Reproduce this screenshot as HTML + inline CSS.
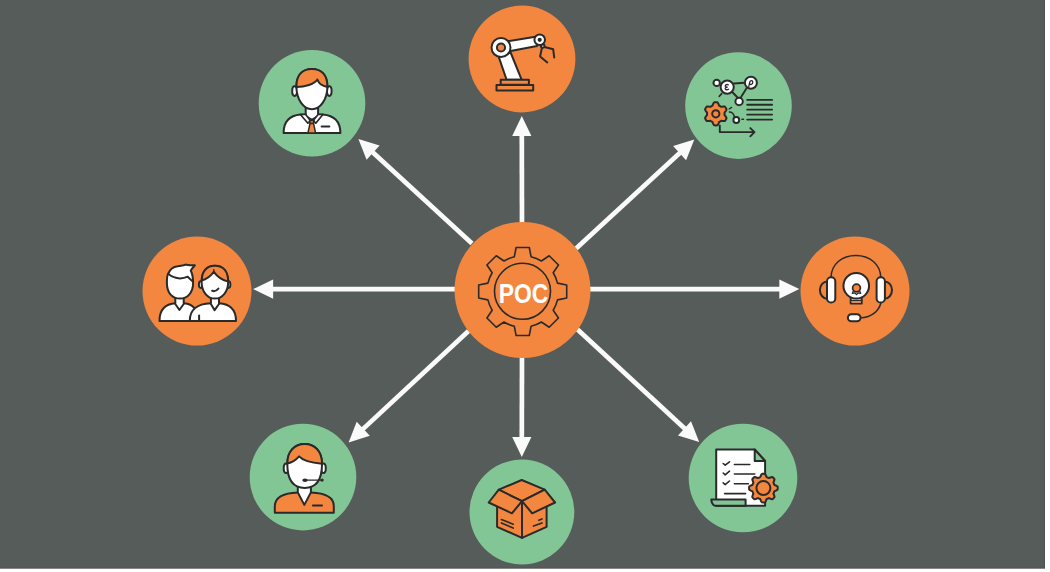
<!DOCTYPE html>
<html><head><meta charset="utf-8">
<style>
html,body{margin:0;padding:0;width:1050px;height:572px;overflow:hidden;background:#fff;}
svg{display:block;}
</style></head>
<body>
<svg width="1050" height="572" viewBox="0 0 1050 572">
<rect width="1050" height="572" fill="#ffffff"/>
<rect x="0" y="0" width="1045" height="568.7" fill="#4e5452"/>
<rect x="0" y="0" width="1043.8" height="567.5" fill="#565c5a"/>
<!-- arrows -->
<g stroke="#fafafa" stroke-width="4.7" fill="none">
  <line x1="522.0" y1="224.0" x2="521.8" y2="134.0"/>
  <line x1="522.0" y1="356.0" x2="521.8" y2="439.0"/>
  <line x1="456.0" y1="289.2" x2="271.1" y2="289.1"/>
  <line x1="589.0" y1="289.2" x2="781.3" y2="289.1"/>
  <line x1="472.0" y1="243.6" x2="371.6" y2="151.3"/>
  <line x1="576.1" y1="248.5" x2="681.1" y2="151.8"/>
  <line x1="468.5" y1="331.0" x2="361.8" y2="430.1"/>
  <line x1="577.3" y1="329.3" x2="686.0" y2="429.7"/>
</g>
<g fill="#fafafa">
  <polygon points="521.8,116.0 531.4,136.0 512.2,136.0"/>
  <polygon points="521.8,457.0 512.2,437.0 531.4,437.0"/>
  <polygon points="253.1,289.1 273.1,279.5 273.1,298.7"/>
  <polygon points="799.3,289.1 779.3,298.7 779.3,279.5"/>
  <polygon points="358.4,139.1 379.6,145.6 366.6,159.7"/>
  <polygon points="694.3,139.6 686.1,160.2 673.1,146.1"/>
  <polygon points="348.6,442.4 356.7,421.8 369.8,435.8"/>
  <polygon points="699.2,441.9 678.0,435.4 691.0,421.3"/>
</g>
<!-- circles -->
<g>
  <circle cx="522.5" cy="290" r="68" fill="#f3873f"/>
  <circle cx="522" cy="59" r="53.4" fill="#f3873f"/>
  <circle cx="312" cy="103.2" r="53.3" fill="#83c696"/>
  <circle cx="738.5" cy="105.6" r="53.3" fill="#83c696"/>
  <circle cx="197" cy="291.05" r="54.5" fill="#f3873f"/>
  <circle cx="855" cy="291.05" r="54.5" fill="#f3873f"/>
  <circle cx="303" cy="477.1" r="53.3" fill="#83c696"/>
  <circle cx="521.9" cy="512" r="52.4" fill="#83c696"/>
  <circle cx="743" cy="478" r="54.3" fill="#83c696"/>
</g>
<!-- POC gear -->
<g fill="none" stroke="#2a2a2a" stroke-width="1.6" stroke-linejoin="round">
  <path d="M514.34,256.69L516.12,247.49L529.28,247.49L531.06,256.69A35.8,35.8 0 0 1 541.41,260.98L549.17,255.73L558.47,265.03L553.22,272.79A35.8,35.8 0 0 1 557.51,283.14L566.71,284.92L566.71,298.08L557.51,299.86A35.8,35.8 0 0 1 553.22,310.21L558.47,317.97L549.17,327.27L541.41,322.02A35.8,35.8 0 0 1 531.06,326.31L529.28,335.51L516.12,335.51L514.34,326.31A35.8,35.8 0 0 1 503.99,322.02L496.23,327.27L486.93,317.97L492.18,310.21A35.8,35.8 0 0 1 487.89,299.86L478.69,298.08L478.69,284.92L487.89,283.14A35.8,35.8 0 0 1 492.18,272.79L486.93,265.03L496.23,255.73L503.99,260.98A35.8,35.8 0 0 1 514.34,256.69Z"/>
  <circle cx="522.5" cy="291.3" r="28"/>
</g>
<text x="523.5" y="302.9" text-anchor="middle" font-family="Liberation Sans" font-weight="bold" font-size="27.8" fill="#fff" textLength="49.5" lengthAdjust="spacingAndGlyphs">POC</text>

<!-- robot -->
<g stroke="#2a2a2a" stroke-width="2" stroke-linejoin="round" stroke-linecap="round">
  <polygon points="498.8,57.1 510.6,52.5 521.7,79.8 506.6,79.8" fill="#fff"/>
  <polygon points="505.6,41.6 537,36.4 537,46 510.6,51" fill="#fff"/>
  <rect x="500.7" y="79.8" width="28.2" height="5" fill="#f3873f"/>
  <rect x="496.5" y="85" width="36.7" height="5.6" fill="#f3873f"/>
  <circle cx="501" cy="47.5" r="9.5" fill="#fff"/>
  <circle cx="501" cy="47.5" r="4.1" fill="#f3873f"/>
  <polyline points="542,47.5 540.1,56.5 547.3,62.4" fill="none"/>
  <polyline points="544.5,47 553.2,49.3 554.2,57.5" fill="none"/>
  <circle cx="542.7" cy="46" r="1.8" fill="#fff"/>
  <circle cx="539.7" cy="39.8" r="5.3" fill="#fff"/>
  <circle cx="539.7" cy="39.8" r="2.1" fill="#2a2a2a" stroke="none"/>
</g>

<!-- person top-left -->
<g stroke="#2a2a2a" stroke-width="2" stroke-linejoin="round" stroke-linecap="round">
  <path d="M283.6,133 C283.6,121 290,115.5 300.4,114.5 L322.7,114.5 C334,115.5 340.4,121 340.4,133 Z" fill="#fff"/>
  <path d="M305.7,107 L305.7,116 L311.8,119.8 L318.1,116 L318.1,107 Z" fill="#fff"/>
  <path d="M300.4,114.5 L305.7,114.5 L310.3,120.5 L307.9,123.2 Z" fill="#fff" stroke-width="1.7"/>
  <path d="M322.9,114.5 L318.1,114.5 L313.3,120.5 L315.8,123.2 Z" fill="#fff" stroke-width="1.7"/>
  <path d="M309.6,120.4 L314,120.4 L313.5,123.4 L310.1,123.4 Z" fill="#f3873f" stroke-width="1.5"/>
  <path d="M310.1,123.4 L313.5,123.4 L315.6,132.9 L307.9,132.9 Z" fill="#f3873f" stroke-width="1.5"/>
  <path d="M321.6,126.6 L329.4,126.6" fill="none"/>
  <ellipse cx="294.6" cy="91.1" rx="2.4" ry="4.8" fill="#fff"/>
  <ellipse cx="329.3" cy="91.1" rx="2.3" ry="4.8" fill="#fff"/>
  <path d="M296.4,86 C296.4,74.5 303,68.9 311.9,68.9 C320.8,68.9 327.4,74.5 327.4,86 C327.4,100 320,109.2 311.9,109.2 C303.8,109.2 296.4,100 296.4,86 Z" fill="#fff"/>
  <path d="M296.4,87 C296.4,74.5 303,68.9 311.9,68.9 C320.8,68.9 327.4,74.5 327.4,87 C322,86 318.5,83 317.4,79.5 C314.5,84 305,87 296.4,87 Z" fill="#f3873f"/>
</g>

<!-- network top-right -->
<g stroke="#2a2a2a" stroke-width="2" stroke-linejoin="round" stroke-linecap="round">
  <path d="M734,83.5 L744.4,82.7 M732.7,92.5 L738,98 M740.8,97.5 L746.4,88.5" fill="none" stroke-width="1.9"/>
  <path d="M719.2,96.4 L721.7,93.6" fill="none" stroke-width="1.6"/>
  <circle cx="716.7" cy="82.9" r="3.2" fill="#fff"/>
  <circle cx="727.2" cy="87.1" r="6.6" fill="#fff"/>
  <circle cx="750.9" cy="82.8" r="6.0" fill="#fff"/>
  <circle cx="739.1" cy="101.5" r="3.7" fill="#fff"/>
  <path d="M728.3,84.8 C726.5,84 724.9,85 725.3,86.3 C725.6,87 726.5,87.1 727.3,87.1 C726,87.1 725,87.8 725.3,88.9 C725.7,90 727.5,90 728.5,89.2" fill="none" stroke-width="1.4"/>
  <path d="M748.7,86.8 L749.8,82 C750.3,80.2 752.8,80.2 752.8,82.3 C752.8,84.5 750.3,85.2 749.5,83.5" fill="none" stroke-width="1.3"/>
  <path d="M724.60,113.80 L724.60,114.03 L724.59,114.26 L724.57,114.49 L724.55,114.72 L724.52,114.95 L724.66,115.20 L724.89,115.49 L725.14,115.79 L725.40,116.10 L725.65,116.44 L725.89,116.79 L726.12,117.15 L726.31,117.52 L726.47,117.90 L726.52,118.24 L726.40,118.52 L726.27,118.79 L726.14,119.07 L725.99,119.34 L725.85,119.60 L725.69,119.86 L725.53,120.12 L725.36,120.37 L725.18,120.62 L725.00,120.86 L724.69,121.00 L724.28,121.04 L723.86,121.06 L723.44,121.05 L723.01,121.01 L722.60,120.96 L722.19,120.90 L721.81,120.83 L721.44,120.77 L721.16,120.78 L720.97,120.92 L720.78,121.05 L720.59,121.18 L720.40,121.30 L720.20,121.42 L720.00,121.53 L719.80,121.64 L719.59,121.74 L719.38,121.84 L719.17,121.93 L719.01,122.17 L718.89,122.52 L718.75,122.88 L718.60,123.26 L718.44,123.65 L718.26,124.04 L718.06,124.41 L717.83,124.77 L717.59,125.09 L717.31,125.30 L717.01,125.34 L716.71,125.36 L716.41,125.38 L716.10,125.40 L715.80,125.40 L715.50,125.40 L715.19,125.38 L714.89,125.36 L714.59,125.34 L714.29,125.30 L714.01,125.09 L713.77,124.77 L713.54,124.41 L713.34,124.04 L713.16,123.65 L713.00,123.26 L712.85,122.88 L712.71,122.52 L712.59,122.17 L712.43,121.93 L712.22,121.84 L712.01,121.74 L711.80,121.64 L711.60,121.53 L711.40,121.42 L711.20,121.30 L711.01,121.18 L710.82,121.05 L710.63,120.92 L710.44,120.78 L710.16,120.77 L709.79,120.83 L709.41,120.90 L709.00,120.96 L708.59,121.01 L708.16,121.05 L707.74,121.06 L707.32,121.04 L706.91,121.00 L706.60,120.86 L706.42,120.62 L706.24,120.37 L706.07,120.12 L705.91,119.86 L705.75,119.60 L705.61,119.34 L705.46,119.07 L705.33,118.79 L705.20,118.52 L705.08,118.24 L705.13,117.90 L705.29,117.52 L705.48,117.15 L705.71,116.79 L705.95,116.44 L706.20,116.10 L706.46,115.79 L706.71,115.49 L706.94,115.20 L707.08,114.95 L707.05,114.72 L707.03,114.49 L707.01,114.26 L707.00,114.03 L707.00,113.80 L707.00,113.57 L707.01,113.34 L707.03,113.11 L707.05,112.88 L707.08,112.65 L706.94,112.40 L706.71,112.11 L706.46,111.81 L706.20,111.50 L705.95,111.16 L705.71,110.81 L705.48,110.45 L705.29,110.08 L705.13,109.70 L705.08,109.36 L705.20,109.08 L705.33,108.81 L705.46,108.53 L705.61,108.26 L705.75,108.00 L705.91,107.74 L706.07,107.48 L706.24,107.23 L706.42,106.98 L706.60,106.74 L706.91,106.60 L707.32,106.56 L707.74,106.54 L708.16,106.55 L708.59,106.59 L709.00,106.64 L709.41,106.70 L709.79,106.77 L710.16,106.83 L710.44,106.82 L710.63,106.68 L710.82,106.55 L711.01,106.42 L711.20,106.30 L711.40,106.18 L711.60,106.07 L711.80,105.96 L712.01,105.86 L712.22,105.76 L712.43,105.67 L712.59,105.43 L712.71,105.08 L712.85,104.72 L713.00,104.34 L713.16,103.95 L713.34,103.56 L713.54,103.19 L713.77,102.83 L714.01,102.51 L714.29,102.30 L714.59,102.26 L714.89,102.24 L715.19,102.22 L715.50,102.20 L715.80,102.20 L716.10,102.20 L716.41,102.22 L716.71,102.24 L717.01,102.26 L717.31,102.30 L717.59,102.51 L717.83,102.83 L718.06,103.19 L718.26,103.56 L718.44,103.95 L718.60,104.34 L718.75,104.72 L718.89,105.08 L719.01,105.43 L719.17,105.67 L719.38,105.76 L719.59,105.86 L719.80,105.96 L720.00,106.07 L720.20,106.18 L720.40,106.30 L720.59,106.42 L720.78,106.55 L720.97,106.68 L721.16,106.82 L721.44,106.83 L721.81,106.77 L722.19,106.70 L722.60,106.64 L723.01,106.59 L723.44,106.55 L723.86,106.54 L724.28,106.56 L724.69,106.60 L725.00,106.74 L725.18,106.98 L725.36,107.23 L725.53,107.48 L725.69,107.74 L725.85,108.00 L725.99,108.26 L726.14,108.53 L726.27,108.81 L726.40,109.08 L726.52,109.36 L726.47,109.70 L726.31,110.08 L726.12,110.45 L725.89,110.81 L725.65,111.16 L725.40,111.50 L725.14,111.81 L724.89,112.11 L724.66,112.40 L724.52,112.65 L724.55,112.88 L724.57,113.11 L724.59,113.34 L724.60,113.57Z" fill="#f3873f"/>
  <circle cx="715.8" cy="113.8" r="3.6" fill="#f3873f"/>
  <path d="M729.2,109 L731.6,107.4" fill="none" stroke-width="1.4"/>
  <path d="M729.4,112 C731.5,112 733.8,114 734.5,117.1" fill="none" stroke-width="1.6"/>
  <circle cx="736.3" cy="120" r="2.9" fill="#fff"/>
  <path d="M742,119.3 L743.5,119.3" fill="none" stroke-width="1.6"/>
  <path d="M747.2,99.9 L772.1,99.9 M747.2,104.7 L772.1,104.7 M747.2,109.6 L772.1,109.6 M747.2,114.6 L772.1,114.6 M747.2,119.6 L772.1,119.6" fill="none" stroke-width="1.9"/>
  <path d="M719.8,125.5 L719.8,132.1 L754.5,132.1 M750.3,128.1 L754.5,132.1 L750.3,136.3" fill="none" stroke-width="1.9"/>
</g>

<!-- two people left -->
<g stroke="#2a2a2a" stroke-width="2" stroke-linejoin="round" stroke-linecap="round">
  <path d="M159.5,320.9 C159.5,309 165,304 175.5,303.3 L184,303.3 C193,304 198,309 198,320.9 Z" fill="#fff"/>
  <path d="M175.3,298 L175.3,304 L179.4,310 L183.7,304 L183.7,298" fill="#fff"/>
  <path d="M166.9,283 C166.9,278 167,275.5 168.1,273.8 C170,269 173.5,266.6 177.7,266.2 C180,265.9 182,265.6 183.6,265.3 L185.5,264.6 C188,265 191,265.6 194.8,265.3 C193,267.5 191.5,269 190.7,270.6 C192,273 193.1,277 193.1,283 C193.1,293 187,298.6 180,298.6 C172.4,298.6 166.9,293 166.9,283 Z" fill="#fff"/>
  <path d="M168.1,273.8 C172,277 176,278.4 180.1,278.4 C183,278.4 186,277.5 187.7,276.7 L192.8,281.6" fill="none"/>
  <path d="M189.8,320.9 C189.8,309 197,304 210.9,303.3 L219,303.3 C230,304 236,309 236,320.9 Z" fill="#fff"/>
  <path d="M199.1,315.6 L199.1,320.9" fill="none"/>
  <path d="M210.9,298 L210.9,304 L214.6,310.2 L219,304 L219,298" fill="#fff"/>
  <ellipse cx="200.8" cy="284.6" rx="1.9" ry="3.3" fill="#fff"/>
  <ellipse cx="228.5" cy="284.6" rx="1.9" ry="3.3" fill="#fff"/>
  <path d="M201.6,282 C201.6,271 207,265.8 214.9,265.8 C222.8,265.8 228.2,271 228.2,282 C228.2,292 222,298.6 214.9,298.6 C207.8,298.6 201.6,292 201.6,282 Z" fill="#fff"/>
  <path d="M201.8,280.5 C201.8,271 207,265.8 214.9,265.8 C222.8,265.8 228.1,271 228.1,281.6 C222,280 216.5,275.5 213.8,271.8 C211,276 207,279 201.8,280.5 Z" fill="#f3873f"/><path d="M213.8,271.8 L213.8,269.7" fill="none" stroke-width="1.4"/>
  <path d="M212.1,290.7 Q215,292.4 218.4,288.6" fill="none"/>
</g>

<!-- headset right -->
<g stroke="#2a2a2a" stroke-width="2" stroke-linejoin="round" stroke-linecap="round">
  <path d="M831.1,277.5 C831.1,264 842,255.6 855.9,255.6 C869.5,255.6 880.7,264 880.7,277.5" fill="none" stroke-width="1.5"/>
  <path d="M881,302.4 C879,312 870,317.8 860.5,317.8" fill="none" stroke-width="1.6"/>
  <path d="M827.5,281.4 A7.6,8.7 0 0 0 827.5,298.8 Z" fill="#f3873f"/>
  <path d="M884.4,281.4 A7.6,8.7 0 0 1 884.4,298.8 Z" fill="#f3873f"/>
  <rect x="827" y="277.2" width="8.3" height="25.4" rx="4.1" fill="#fff"/>
  <rect x="876.6" y="277.2" width="8.3" height="25.4" rx="4.1" fill="#fff"/>
  <rect x="850.7" y="297" width="11" height="6.6" fill="#fff"/>
  <rect x="851.6" y="300.8" width="9.2" height="1.9" fill="#f3873f" stroke="none"/><path d="M850.7,300.4 L861.7,300.4" fill="none" stroke-width="1.2"/>
  <circle cx="856.25" cy="285.8" r="12.8" fill="#fff"/>
  <circle cx="856.5" cy="288" r="3.9" fill="#f3873f" stroke-width="1.7"/>
  <path d="M853.2,291.2 L852.3,293.4 L854.8,292.8 L856.5,294.6 L858.2,292.8 L860.7,293.4 L859.8,291.2" fill="none" stroke-width="1.3"/>
  <rect x="847.9" y="314.3" width="12.6" height="7" rx="3.5" fill="#fff"/>
</g>

<!-- support agent bottom-left -->
<g stroke="#2a2a2a" stroke-width="2" stroke-linejoin="round" stroke-linecap="round">
  <path d="M274.8,512.8 L274.8,506 C275,498 283,493 297.8,492.4 L310.9,492.4 C326,493 333.8,498 333.8,506 L333.8,512.8 Z" fill="#f3873f"/>
  <path d="M297.8,486 L297.8,492.4 L304.3,504.9 L310.9,492.4 L310.9,486 Z" fill="#fff"/>
  <path d="M312.9,505.6 L322,505.6" fill="none"/>
  <ellipse cx="286.2" cy="468.2" rx="2.5" ry="4.8" fill="#fff"/>
  <ellipse cx="323.4" cy="468.2" rx="2.4" ry="4.8" fill="#fff"/>
  <path d="M287.3,464 C287.3,451 295,443.9 304.7,443.9 C314.4,443.9 322,451 322,464 C322,479 317,487.9 304.7,487.9 C292.4,487.9 287.3,479 287.3,464 Z" fill="#fff"/>
  <path d="M287.3,463.5 C287.3,451 295,443.9 304.7,443.9 C314.4,443.9 322,451 322,463.8 C314,463 303,461 299.1,456.4 C296,460 292,462.5 287.3,463.5 Z" fill="#f3873f"/>
  <path d="M305.6,480.2 L322,480.1" fill="none" stroke-width="1.2"/>
  <ellipse cx="305.0" cy="480.2" rx="2.7" ry="1.7" fill="#2a2a2a" stroke="none"/>
  <circle cx="322.1" cy="480.1" r="1.6" fill="#2a2a2a" stroke="none"/>
</g>

<!-- box bottom -->
<g stroke="#2a2a2a" stroke-width="2" stroke-linejoin="round" stroke-linecap="round">
  <path d="M497.1,507 L497.1,526.8 L522,537.9 L546.6,526.8 L546.6,507 L522,501.2 Z" fill="#f3873f"/>
  <path d="M498.8,489.7 L521.7,480 L544.7,489.7 L522,501.2 Z" fill="#f3873f"/>
  <path d="M498.8,489.7 L488.7,502.5 L511.9,513.3 L522,501.2 Z" fill="#f3873f"/>
  <path d="M544.7,489.7 L555.1,502.5 L532.2,513.3 L522,501.2 Z" fill="#f3873f"/>
  <path d="M522,501.2 L522,537.9" fill="none"/>
  <path d="M501.4,519.6 L513.2,524.2 M501.4,522.9 L513.2,528.1 M533.5,526.1 L542,522.9 M538.8,520.2 L542,518.9" fill="none" stroke-width="1.6"/>
</g>

<!-- document bottom-right -->
<g stroke="#2a2a2a" stroke-width="2" stroke-linejoin="round" stroke-linecap="round">
  <path d="M716.2,449.5 L754.7,449.5 L765.1,461 L765.1,505.7 L716.2,505.7 Z" fill="#fff"/>
  <path d="M754.7,449.5 L754.7,461 L765.1,461 Z" fill="#83c696"/>
  <path d="M711.3,499.4 L745.6,499.4 L745.6,505.7 L715,505.7 C713,505.7 711.3,502 711.3,499.4 Z" fill="#83c696"/>
  <path d="M723.2,463.5 L725.2,465.2 L729.5,461.8 M723.2,473 L725.2,474.8 L729.5,471.2 M723.2,482.8 L725.2,484.6 L729.5,481" fill="none" stroke-width="1.6"/>
  <path d="M734.4,464.5 L749.8,464.5 M734.4,474 L754.7,474 M734.4,483.8 L748.4,483.8 M724.6,493.6 L745.6,493.6" fill="none" stroke-width="1.6"/>
  <path d="M777.70,488.10 L777.70,488.47 L777.68,488.85 L777.66,489.22 L777.62,489.59 L777.22,489.92 L776.76,490.22 L776.26,490.48 L775.75,490.72 L775.24,490.94 L774.76,491.14 L774.33,491.34 L774.24,491.62 L774.15,491.91 L774.04,492.19 L773.93,492.46 L773.81,492.74 L773.69,493.01 L773.56,493.28 L773.42,493.54 L773.59,493.98 L773.78,494.46 L773.99,494.97 L774.18,495.51 L774.34,496.05 L774.46,496.58 L774.51,497.10 L774.27,497.39 L774.03,497.67 L773.77,497.94 L773.51,498.21 L773.24,498.47 L772.97,498.73 L772.69,498.97 L772.40,499.21 L771.88,499.16 L771.35,499.04 L770.81,498.88 L770.27,498.69 L769.76,498.48 L769.28,498.29 L768.84,498.12 L768.58,498.26 L768.31,498.39 L768.04,498.51 L767.76,498.63 L767.49,498.74 L767.21,498.85 L766.92,498.94 L766.64,499.03 L766.44,499.46 L766.24,499.94 L766.02,500.45 L765.78,500.96 L765.52,501.46 L765.22,501.92 L764.89,502.32 L764.52,502.36 L764.15,502.38 L763.77,502.40 L763.40,502.40 L763.03,502.40 L762.65,502.38 L762.28,502.36 L761.91,502.32 L761.58,501.92 L761.28,501.46 L761.02,500.96 L760.78,500.45 L760.56,499.94 L760.36,499.46 L760.16,499.03 L759.88,498.94 L759.59,498.85 L759.31,498.74 L759.04,498.63 L758.76,498.51 L758.49,498.39 L758.22,498.26 L757.96,498.12 L757.52,498.29 L757.04,498.48 L756.53,498.69 L755.99,498.88 L755.45,499.04 L754.92,499.16 L754.40,499.21 L754.11,498.97 L753.83,498.73 L753.56,498.47 L753.29,498.21 L753.03,497.94 L752.77,497.67 L752.53,497.39 L752.29,497.10 L752.34,496.58 L752.46,496.05 L752.62,495.51 L752.81,494.97 L753.02,494.46 L753.21,493.98 L753.38,493.54 L753.24,493.28 L753.11,493.01 L752.99,492.74 L752.87,492.46 L752.76,492.19 L752.65,491.91 L752.56,491.62 L752.47,491.34 L752.04,491.14 L751.56,490.94 L751.05,490.72 L750.54,490.48 L750.04,490.22 L749.58,489.92 L749.18,489.59 L749.14,489.22 L749.12,488.85 L749.10,488.47 L749.10,488.10 L749.10,487.73 L749.12,487.35 L749.14,486.98 L749.18,486.61 L749.58,486.28 L750.04,485.98 L750.54,485.72 L751.05,485.48 L751.56,485.26 L752.04,485.06 L752.47,484.86 L752.56,484.58 L752.65,484.29 L752.76,484.01 L752.87,483.74 L752.99,483.46 L753.11,483.19 L753.24,482.92 L753.38,482.66 L753.21,482.22 L753.02,481.74 L752.81,481.23 L752.62,480.69 L752.46,480.15 L752.34,479.62 L752.29,479.10 L752.53,478.81 L752.77,478.53 L753.03,478.26 L753.29,477.99 L753.56,477.73 L753.83,477.47 L754.11,477.23 L754.40,476.99 L754.92,477.04 L755.45,477.16 L755.99,477.32 L756.53,477.51 L757.04,477.72 L757.52,477.91 L757.96,478.08 L758.22,477.94 L758.49,477.81 L758.76,477.69 L759.04,477.57 L759.31,477.46 L759.59,477.35 L759.88,477.26 L760.16,477.17 L760.36,476.74 L760.56,476.26 L760.78,475.75 L761.02,475.24 L761.28,474.74 L761.58,474.28 L761.91,473.88 L762.28,473.84 L762.65,473.82 L763.03,473.80 L763.40,473.80 L763.77,473.80 L764.15,473.82 L764.52,473.84 L764.89,473.88 L765.22,474.28 L765.52,474.74 L765.78,475.24 L766.02,475.75 L766.24,476.26 L766.44,476.74 L766.64,477.17 L766.92,477.26 L767.21,477.35 L767.49,477.46 L767.76,477.57 L768.04,477.69 L768.31,477.81 L768.58,477.94 L768.84,478.08 L769.28,477.91 L769.76,477.72 L770.27,477.51 L770.81,477.32 L771.35,477.16 L771.88,477.04 L772.40,476.99 L772.69,477.23 L772.97,477.47 L773.24,477.73 L773.51,477.99 L773.77,478.26 L774.03,478.53 L774.27,478.81 L774.51,479.10 L774.46,479.62 L774.34,480.15 L774.18,480.69 L773.99,481.23 L773.78,481.74 L773.59,482.22 L773.42,482.66 L773.56,482.92 L773.69,483.19 L773.81,483.46 L773.93,483.74 L774.04,484.01 L774.15,484.29 L774.24,484.58 L774.33,484.86 L774.76,485.06 L775.24,485.26 L775.75,485.48 L776.26,485.72 L776.76,485.98 L777.22,486.28 L777.62,486.61 L777.66,486.98 L777.68,487.35 L777.70,487.73Z" fill="#f3873f"/>
  <circle cx="763.4" cy="488.1" r="7" fill="#f3873f"/>
</g>
</svg>
</body></html>
